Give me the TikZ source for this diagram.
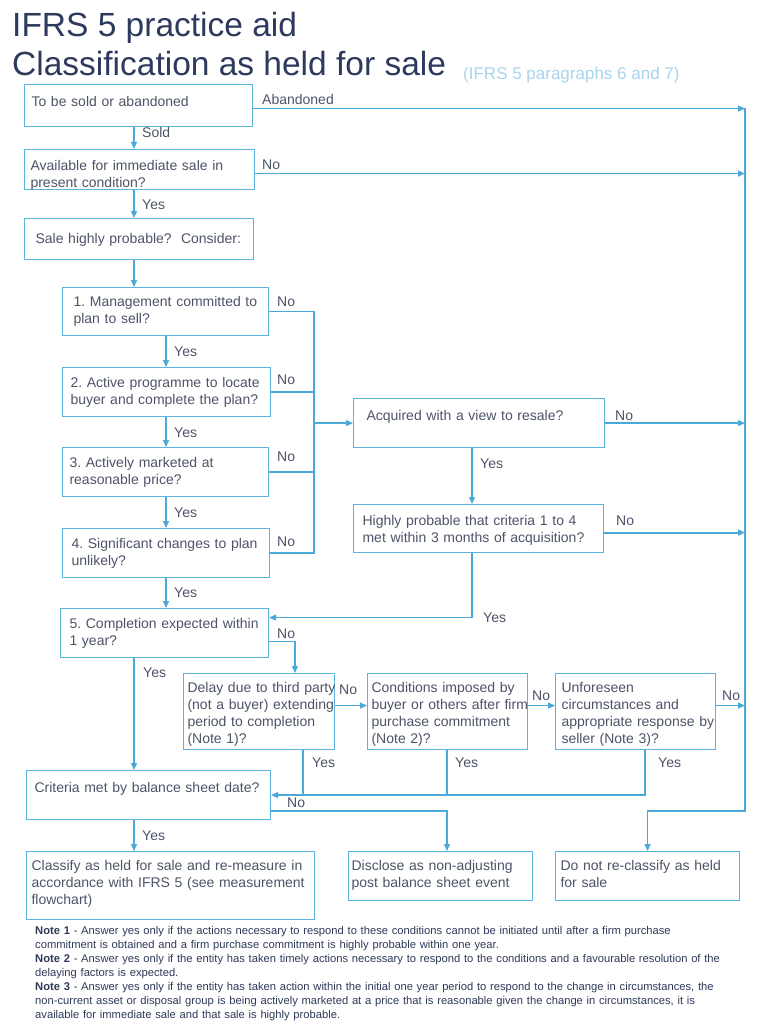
\documentclass[tikz,border=0pt]{standalone}
\usepackage{fontspec}
\setmainfont{Liberation Sans}
\usetikzlibrary{arrows.meta}
\definecolor{titlec}{HTML}{2D3A5E}
\definecolor{subc}{HTML}{A8D4EC}
\definecolor{txtc}{HTML}{4D5468}
\definecolor{boxc}{HTML}{5AB4DE}
\definecolor{linec}{HTML}{4BA8D8}
\definecolor{notec}{HTML}{2F3A5A}
\frenchspacing
\begin{document}
\begin{tikzpicture}[x=1pt,y=-1pt,
  box/.style={draw=boxc, line width=1.1pt, anchor=north west, align=left, inner ysep=0pt,
    text=txtc, font=\fontsize{14}{17}\selectfont\frenchspacing, text height=10pt},
  lbl/.style={anchor=base west, inner sep=0pt, text=txtc, font=\fontsize{14}{17}\selectfont},
  ln/.style={draw=linec, line width=1.2pt},
  arr/.style={ln, -{Triangle[length=7pt,width=6pt]}},
  ttl/.style={anchor=base west, inner sep=0pt, text=titlec, font=\fontsize{33.5}{40}\selectfont}
]
\fill[white] (0,0) rectangle (768,1024);
\useasboundingbox (0,0) rectangle (768,1024);

% titles
\node[ttl] (t1) at (12,37) {IFRS 5 practice aid};
\node[ttl] (t2) at (12,76) {Classification as held for sale};
\node[anchor=base west, inner sep=0pt, text=subc, font=\fontsize{17}{20}\selectfont] (t3) at (463,80) {(IFRS 5 paragraphs 6 and 7)};

% boxes
\node[box, inner xsep=7pt, text width=214pt, minimum height=42pt, text depth=8pt] (A) at (24,84) {\mbox{To be sold or abandoned}};
\node[box, inner xsep=6pt, text width=218pt, minimum height=40pt, text depth=9pt] (B) at (24,149) {\mbox{Available for immediate sale in}\\\mbox{present condition?}};
\node[box, inner xsep=11pt, text width=207pt, minimum height=41pt, text depth=1pt] (C) at (24,218) {\mbox{Sale highly probable?\ \ Consider:}};
\node[box, inner xsep=11pt, text width=184pt, minimum height=48pt, text depth=20pt] (P1) at (62,287) {\mbox{1. Management committed to}\\\mbox{plan to sell?}};
\node[box, inner xsep=8pt, text width=192pt, minimum height=49pt, text depth=19pt] (P2) at (62,367) {\mbox{2. Active programme to locate}\\\mbox{buyer and complete the plan?}};
\node[box, inner xsep=7pt, text width=192pt, minimum height=49pt, text depth=19pt] (P3) at (62,447) {\mbox{3. Actively marketed at}\\\mbox{reasonable price?}};
\node[box, inner xsep=9pt, text width=189pt, minimum height=49pt, text depth=19pt] (P4) at (62,528) {\mbox{4. Significant changes to plan}\\\mbox{unlikely?}};
\node[box, inner xsep=9pt, text width=190pt, minimum height=49pt, text depth=19pt] (P5) at (60,608) {\mbox{5. Completion expected within}\\\mbox{1 year?}};
\node[box, inner xsep=13pt, text width=225pt, minimum height=49pt, text depth=15pt] (AQ) at (353,398) {\mbox{Acquired with a view to resale?}};
\node[box, inner xsep=9pt, text width=232pt, minimum height=48pt, text depth=16pt] (HP) at (353,504) {\mbox{Highly probable that criteria 1 to 4}\\\mbox{met within 3 months of acquisition?}};
\node[box, inner xsep=4pt, text width=143pt, minimum height=76pt, text depth=48pt] (DL) at (183,673) {\mbox{Delay due to third party}\\\mbox{(not a buyer) extending}\\\mbox{period to completion}\\\mbox{(Note 1)?}};
\node[box, inner xsep=4pt, text width=152pt, minimum height=76pt, text depth=48pt] (CD) at (367,673) {\mbox{Conditions imposed by}\\\mbox{buyer or others after firm}\\\mbox{purchase commitment}\\\mbox{(Note 2)?}};
\node[box, inner xsep=6pt, text width=148pt, minimum height=76pt, text depth=48pt] (UF) at (555,673) {\mbox{Unforeseen}\\\mbox{circumstances and}\\\mbox{appropriate response by}\\\mbox{seller (Note 3)?}};
\node[box, inner xsep=8pt, text width=228pt, minimum height=49pt, text depth=15pt] (CR) at (26,770) {\mbox{Criteria met by balance sheet date?}};
\node[box, inner xsep=5pt, text width=278pt, minimum height=68pt, text depth=40pt] (CL) at (26,851) {\mbox{Classify as held for sale and re-measure in}\\\mbox{accordance with IFRS 5 (see measurement}\\\mbox{flowchart)}};
\node[box, inner xsep=3pt, text width=178pt, minimum height=49pt, text depth=21pt] (DS) at (348,851) {\mbox{Disclose as non-adjusting}\\\mbox{post balance sheet event}};
\node[box, inner xsep=5pt, text width=174pt, minimum height=49pt, text depth=21pt] (DN) at (555,851) {\mbox{Do not re-classify as held}\\\mbox{for sale}};

% helper coordinates
\coordinate (cL) at (134,0);
\coordinate (cM) at (166,0);
\coordinate (bus) at (314,0);
\coordinate (cR) at (472,0);
\coordinate (rail) at (745,0);
\coordinate (dlx) at (295,0);
\coordinate (y1) at (303,0);
\coordinate (y2) at (447,0);
\coordinate (y3) at (645,0);
\coordinate (railtop) at (745,108);
\coordinate (railbot) at (745,811);
\coordinate (aE) at ([yshift=-3pt]A.east);
\coordinate (bE) at ([yshift=-4pt]B.east);
\coordinate (hpE) at ([yshift=-4pt]HP.east);
\coordinate (p5in) at ([yshift=15.5pt]P5.east);
\coordinate (p5out) at ([yshift=-8.5pt]P5.east);
\coordinate (dlE) at ([yshift=6pt]DL.east);
\coordinate (cdE) at ([yshift=6pt]CD.east);
\coordinate (ufE) at ([yshift=6pt]UF.east);
\coordinate (crN) at ([yshift=-16pt]CR.east);

% connectors
\draw[arr] (aE) -- (aE -| rail);
\draw[arr] (bE) -- (bE -| rail);
\draw[arr] (railtop) -- (railbot) -| (DN.north);
\draw[arr] (A.south -| cL) -- (B.north -| cL);
\draw[arr] (B.south -| cL) -- (C.north -| cL);
\draw[arr] (C.south -| cL) -- (P1.north -| cL);
\draw[arr] (P1.south -| cM) -- (P2.north -| cM);
\draw[arr] (P2.south -| cM) -- (P3.north -| cM);
\draw[arr] (P3.south -| cM) -- (P4.north -| cM);
\draw[arr] (P4.south -| cM) -- (P5.north -| cM);
\draw[ln] (P1.east) -- (P1.east -| bus) -- (P4.east -| bus) -- (P4.east);
\draw[ln] (P2.east) -- (P2.east -| bus);
\draw[ln] (P3.east) -- (P3.east -| bus);
\draw[arr] (AQ.west -| bus) -- (AQ.west);
\draw[arr] (AQ.east) -- (AQ.east -| rail);
\draw[arr] (AQ.south -| cR) -- (HP.north -| cR);
\draw[arr, line width=2pt] (hpE) -- (hpE -| rail);
\draw[arr] (HP.south -| cR) |- (p5in);
\draw[arr] (p5out) -| (DL.north -| dlx);
\draw[arr] (P5.south -| cL) -- (CR.north -| cL);
\draw[arr] (dlE) -- (dlE -| CD.west);
\draw[arr] (cdE) -- (cdE -| UF.west);
\draw[arr] (ufE) -- (ufE -| rail);
\draw[ln] (DL.south -| y1) -- (y1 |- CR.east);
\draw[ln] (CD.south -| y2) -- (y2 |- CR.east);
\draw[arr] (UF.south -| y3) |- (CR.east);
\draw[arr] (crN) -| (DS.north -| y2);
\draw[arr] (CR.south -| cL) -- (CL.north -| cL);

% labels
\node[lbl] (lAb) at (262,105) {Abandoned};
\node[lbl] (lSold) at (142,138) {Sold};
\node[lbl] (lBno) at (262,170) {No};
\node[lbl] (lByes) at (142,210) {Yes};
\node[lbl] (l1no) at (277,306) {No};
\node[lbl] (l1yes) at (174,356) {Yes};
\node[lbl] (l2no) at (277,384) {No};
\node[lbl] (l2yes) at (174,437) {Yes};
\node[lbl] (l3no) at (277,461) {No};
\node[lbl] (l3yes) at (174,517) {Yes};
\node[lbl] (l4no) at (277,546) {No};
\node[lbl] (l4yes) at (174,597) {Yes};
\node[lbl] (l5no) at (277,638) {No};
\node[lbl] (l5yes) at (143,677) {Yes};
\node[lbl] (lAQno) at (615,420) {No};
\node[lbl] (lAQyes) at (480,468) {Yes};
\node[lbl] (lHPno) at (616,525) {No};
\node[lbl] (lHPyes) at (483,622) {Yes};
\node[lbl] (lDLno) at (339,694) {No};
\node[lbl] (lCDno) at (532,700) {No};
\node[lbl] (lUFno) at (722,700) {No};
\node[lbl] (lDLyes) at (312,767) {Yes};
\node[lbl] (lCDyes) at (455,767) {Yes};
\node[lbl] (lUFyes) at (658,767) {Yes};
\node[lbl] (lCRno) at (287,807) {No};
\node[lbl] (lCRyes) at (142,840) {Yes};

% notes
\node[anchor=base west, inner sep=0pt, align=left, text width=720pt, text=notec, font=\fontsize{11.2}{14}\selectfont\frenchspacing] (notes) at (35,934) {%
\mbox{\textbf{Note 1} - Answer yes only if the actions necessary to respond to these conditions cannot be initiated until after a firm purchase}\\
\mbox{commitment is obtained and a firm purchase commitment is highly probable within one year.}\\
\mbox{\textbf{Note 2} - Answer yes only if the entity has taken timely actions necessary to respond to the conditions and a favourable resolution of the}\\
\mbox{delaying factors is expected.}\\
\mbox{\textbf{Note 3} - Answer yes only if the entity has taken action within the initial one year period to respond to the change in circumstances, the}\\
\mbox{non-current asset or disposal group is being actively marketed at a price that is reasonable given the change in circumstances, it is}\\
\mbox{available for immediate sale and that sale is highly probable.}};
\end{tikzpicture}
\end{document}
